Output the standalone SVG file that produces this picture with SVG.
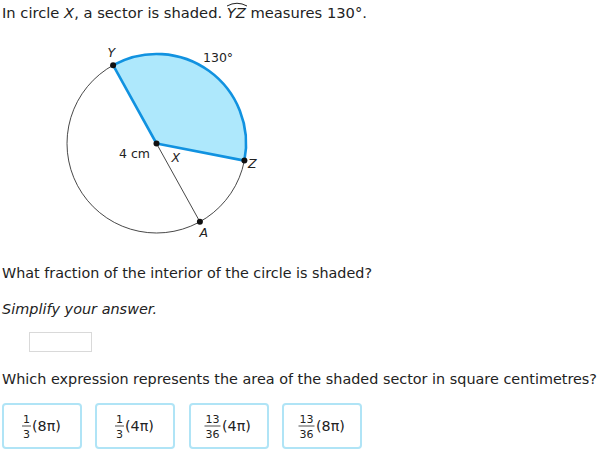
<svg xmlns="http://www.w3.org/2000/svg" width="599" height="452" viewBox="0 0 599 452">
<style>
.t{font-family:"DejaVu Sans",Verdana,sans-serif;font-size:14.3px;fill:#222}
.l{font-family:"DejaVu Sans",Verdana,sans-serif;font-size:12.5px;fill:#222}
.i{font-style:italic}
.fr{font-family:"DejaVu Sans",Verdana,sans-serif;font-size:11px;fill:#222}
.btn{fill:#fff;stroke:#b0e4f6;stroke-width:2}
.dot{fill:#111}
</style>
<rect width="599" height="452" fill="#fff"/>
<text class="t" x="2" y="17.5" textLength="365" lengthAdjust="spacingAndGlyphs">In circle <tspan class="i">X</tspan>, a sector is shaded. <tspan class="i">YZ</tspan> measures 130°.</text>
<path id="arcmark" d="M227 6 Q237 0.5 247 6" fill="none" stroke="#222" stroke-width="1"/>
<g id="circle">
<circle cx="156.5" cy="143.5" r="89.5" fill="none" stroke="#333" stroke-width="0.9"/>
</g>
<g id="sector">
<path d="M156.5 143.5 L113.1 65.2 A89.5 89.5 0 0 1 244.4 160.6 Z" fill="#aee8fc" stroke="#1192e0" stroke-width="2.6" stroke-linejoin="round"/>
</g>
<g id="connectors">
<line x1="156.5" y1="143.5" x2="199.9" y2="221.8" stroke="#333" stroke-width="0.9"/>
</g>
<g id="point-Y"><circle class="dot" cx="113.1" cy="65.2" r="3"/><text class="l i" x="107.5" y="57">Y</text></g>
<g id="point-X"><circle class="dot" cx="156.5" cy="143.5" r="3"/><text class="l i" x="171.5" y="162">X</text></g>
<g id="point-Z"><circle class="dot" cx="244.4" cy="160.6" r="3"/><text class="l i" x="248" y="168">Z</text></g>
<g id="point-A"><circle class="dot" cx="199.9" cy="221.8" r="3"/><text class="l i" x="199.5" y="236.5">A</text></g>
<text class="l" x="203" y="62">130°</text>
<text class="l" x="119" y="158">4 cm</text>
<text class="t" x="2" y="278" textLength="370" lengthAdjust="spacingAndGlyphs">What fraction of the interior of the circle is shaded?</text>
<text class="t i" x="2" y="314" textLength="155" lengthAdjust="spacingAndGlyphs">Simplify your answer.</text>
<g id="input"><rect x="29.5" y="332.5" width="62" height="19" fill="#fff" stroke="#d9d9d9" stroke-width="1"/></g>
<text class="t" x="2" y="384" textLength="595" lengthAdjust="spacingAndGlyphs">Which expression represents the area of the shaded sector in square centimetres?</text>
<g id="opt1">
<rect class="btn" x="3" y="404" width="78" height="44" rx="3"/>
<text class="fr" x="26.5" y="423" text-anchor="middle">1</text>
<line x1="22" y1="426" x2="31" y2="426" stroke="#222" stroke-width="0.8"/>
<text class="fr" x="26.5" y="437.5" text-anchor="middle">3</text>
<text class="t" x="32" y="431">(8π)</text>
</g>
<g id="opt2">
<rect class="btn" x="96" y="404" width="78" height="44" rx="3"/>
<text class="fr" x="119.5" y="423" text-anchor="middle">1</text>
<line x1="115" y1="426" x2="124" y2="426" stroke="#222" stroke-width="0.8"/>
<text class="fr" x="119.5" y="437.5" text-anchor="middle">3</text>
<text class="t" x="125" y="431">(4π)</text>
</g>
<g id="opt3">
<rect class="btn" x="190" y="404" width="78" height="44" rx="3"/>
<text class="fr" x="212.5" y="423" text-anchor="middle">13</text>
<line x1="204.5" y1="426" x2="220.5" y2="426" stroke="#222" stroke-width="0.8"/>
<text class="fr" x="212.5" y="437.5" text-anchor="middle">36</text>
<text class="t" x="222" y="431">(4π)</text>
</g>
<g id="opt4">
<rect class="btn" x="283" y="404" width="78" height="44" rx="3"/>
<text class="fr" x="306.5" y="423" text-anchor="middle">13</text>
<line x1="298.5" y1="426" x2="314.5" y2="426" stroke="#222" stroke-width="0.8"/>
<text class="fr" x="306.5" y="437.5" text-anchor="middle">36</text>
<text class="t" x="316" y="431">(8π)</text>
</g>
</svg>
